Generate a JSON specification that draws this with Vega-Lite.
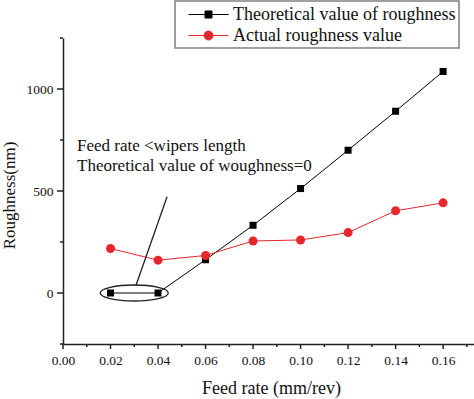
{
  "$schema": "https://vega.github.io/schema/vega-lite/v6.json",
  "width": 411,
  "height": 306,
  "autosize": "none",
  "padding": {"left": 63, "top": 38, "right": 0, "bottom": 55},
  "background": "white",
  "config": {
    "view": {"stroke": null},
    "font": "Liberation Serif",
    "axis": {
      "domainColor": "#222222",
      "domainWidth": 1.5,
      "ticks": false,
      "labelColor": "#111111",
      "labelFont": "Liberation Serif",
      "labelFontSize": 13.5,
      "titleFont": "Liberation Serif",
      "titleColor": "#111111",
      "titleFontWeight": "normal",
      "grid": false
    }
  },
  "datasets": {
    "series": [
      {"feed": 0.02, "rough": 0, "series": "Theoretical value of roughness"},
      {"feed": 0.04, "rough": 0, "series": "Theoretical value of roughness"},
      {"feed": 0.06, "rough": 163, "series": "Theoretical value of roughness"},
      {"feed": 0.08, "rough": 332, "series": "Theoretical value of roughness"},
      {"feed": 0.10, "rough": 512, "series": "Theoretical value of roughness"},
      {"feed": 0.12, "rough": 700, "series": "Theoretical value of roughness"},
      {"feed": 0.14, "rough": 891, "series": "Theoretical value of roughness"},
      {"feed": 0.16, "rough": 1086, "series": "Theoretical value of roughness"},
      {"feed": 0.02, "rough": 218, "series": "Actual roughness value"},
      {"feed": 0.04, "rough": 161, "series": "Actual roughness value"},
      {"feed": 0.06, "rough": 184, "series": "Actual roughness value"},
      {"feed": 0.08, "rough": 255, "series": "Actual roughness value"},
      {"feed": 0.10, "rough": 260, "series": "Actual roughness value"},
      {"feed": 0.12, "rough": 296, "series": "Actual roughness value"},
      {"feed": 0.14, "rough": 403, "series": "Actual roughness value"},
      {"feed": 0.16, "rough": 442, "series": "Actual roughness value"}
    ],
    "xmajor": [{"feed": 0}, {"feed": 0.02}, {"feed": 0.04}, {"feed": 0.06}, {"feed": 0.08}, {"feed": 0.1}, {"feed": 0.12}, {"feed": 0.14}, {"feed": 0.16}],
    "xminor": [{"feed": 0.01}, {"feed": 0.03}, {"feed": 0.05}, {"feed": 0.07}, {"feed": 0.09}, {"feed": 0.11}, {"feed": 0.13}, {"feed": 0.15}, {"feed": 0.17}],
    "ymajor": [{"rough": 0}, {"rough": 500}, {"rough": 1000}],
    "yminor": [{"rough": -250}, {"rough": 250}, {"rough": 750}, {"rough": 1250}],
    "ellipse": [{"feed": 0.03, "rough": 0}],
    "pointer": [{"feed": 0.0438, "rough": 472, "feed2": 0.0307, "rough2": 37}],
    "notes": [
      {"feed": 0.0059, "rough": 694, "text": "Feed rate <wipers length"},
      {"feed": 0.0059, "rough": 598, "text": "Theoretical value of woughness=0"}
    ]
  },
  "layer": [
    {
      "data": {"name": "series"},
      "mark": {"type": "line", "strokeWidth": 1},
      "encoding": {
        "x": {
          "field": "feed", "type": "quantitative",
          "scale": {"domain": [0, 0.173], "nice": false, "zero": false},
          "axis": {
            "orient": "bottom",
            "values": [0, 0.02, 0.04, 0.06, 0.08, 0.1, 0.12, 0.14, 0.16],
            "format": ".2f",
            "labelPadding": 9,
            "title": "Feed rate (mm/rev)",
            "titleFontSize": 18,
            "titleX": 208,
            "titleY": 49,
            "titleBaseline": "alphabetic",
            "titleAlign": "center",
            "labelFlush": false,
            "labelOverlap": false
          }
        },
        "y": {
          "field": "rough", "type": "quantitative",
          "scale": {"domain": [-250, 1250], "nice": false, "zero": false},
          "axis": {
            "orient": "left",
            "values": [0, 500, 1000],
            "format": "d",
            "labelPadding": 10,
            "title": "Roughness(nm)",
            "titleFontSize": 17,
            "titleX": -49,
            "titleY": 157,
            "titleAngle": -90,
            "titleBaseline": "alphabetic",
            "titleAlign": "center",
            "labelFlush": false,
            "labelOverlap": false
          }
        },
        "color": {
          "field": "series", "type": "nominal",
          "scale": {"domain": ["Theoretical value of roughness", "Actual roughness value"], "range": ["#000000", "#e8262e"]},
          "legend": {
            "title": null,
            "orient": "none",
            "legendX": 112,
            "legendY": -37,
            "padding": 3,
            "rowPadding": 1,
            "fillColor": "white",
            "strokeColor": "#808080",
            "labelFont": "Liberation Serif",
            "labelFontSize": 18,
            "labelColor": "#111111",
            "labelLimit": 400,
            "labelOffset": 34,
            "symbolSize": 400,
            "encode": {
              "legend": {"update": {"strokeWidth": {"value": 1.5}}},
              "symbols": {
                "update": {
                  "shape": {"signal": "datum.value === 'Theoretical value of roughness' ? 'M0,0H4M1.65,-0.35H2.35V0.35H1.65Z' : 'M0,0H4M1.55,0A0.45,0.45,0,1,0,2.45,0A0.45,0.45,0,1,0,1.55,0Z'"},
                  "fill": {"signal": "datum.value === 'Theoretical value of roughness' ? '#000000' : '#ee1c24'"},
                  "stroke": {"signal": "datum.value === 'Theoretical value of roughness' ? '#1a1a1a' : '#e0505a'"},
                  "strokeWidth": {"value": 1},
                  "opacity": {"value": 1}
                }
              }
            }
          }
        }
      }
    },
    {
      "data": {"name": "xmajor"},
      "mark": {"type": "tick", "orient": "vertical", "size": 5, "thickness": 1.5, "yOffset": 2.5, "color": "#222222", "opacity": 1},
      "encoding": {
        "x": {"field": "feed", "type": "quantitative"},
        "y": {"datum": -250, "type": "quantitative"}
      }
    },
    {
      "data": {"name": "xminor"},
      "mark": {"type": "tick", "orient": "vertical", "size": 3, "thickness": 1.5, "yOffset": 1.5, "color": "#222222", "opacity": 1},
      "encoding": {
        "x": {"field": "feed", "type": "quantitative"},
        "y": {"datum": -250, "type": "quantitative"}
      }
    },
    {
      "data": {"name": "ymajor"},
      "mark": {"type": "tick", "orient": "horizontal", "size": 6, "thickness": 1.5, "xOffset": -3, "color": "#222222", "opacity": 1},
      "encoding": {
        "y": {"field": "rough", "type": "quantitative"},
        "x": {"datum": 0, "type": "quantitative"}
      }
    },
    {
      "data": {"name": "yminor"},
      "mark": {"type": "tick", "orient": "horizontal", "size": 3, "thickness": 1.5, "xOffset": -1.5, "color": "#222222", "opacity": 1},
      "encoding": {
        "y": {"field": "rough", "type": "quantitative"},
        "x": {"datum": 0, "type": "quantitative"}
      }
    },
    {
      "data": {"name": "ellipse"},
      "mark": {
        "type": "point",
        "shape": "M-1,0A1,0.235,0,1,0,1,0A1,0.235,0,1,0,-1,0Z",
        "size": 4624,
        "filled": false,
        "stroke": "#222222",
        "strokeWidth": 1.3,
        "opacity": 1
      },
      "encoding": {
        "x": {"field": "feed", "type": "quantitative"},
        "y": {"field": "rough", "type": "quantitative"}
      }
    },
    {
      "data": {"name": "series"},
      "transform": [{"filter": "datum.series === 'Theoretical value of roughness'"}],
      "mark": {"type": "point", "shape": "square", "size": 49, "filled": true, "opacity": 1, "strokeWidth": 0},
      "encoding": {
        "x": {"field": "feed", "type": "quantitative"},
        "y": {"field": "rough", "type": "quantitative"},
        "color": {"field": "series", "type": "nominal"}
      }
    },
    {
      "data": {"name": "series"},
      "transform": [{"filter": "datum.series === 'Actual roughness value'"}],
      "mark": {"type": "point", "shape": "circle", "size": 81, "filled": true, "opacity": 1, "strokeWidth": 0},
      "encoding": {
        "x": {"field": "feed", "type": "quantitative"},
        "y": {"field": "rough", "type": "quantitative"},
        "color": {"field": "series", "type": "nominal"}
      }
    },
    {
      "data": {"name": "pointer"},
      "mark": {"type": "rule", "stroke": "#222222", "strokeWidth": 1.3},
      "encoding": {
        "x": {"field": "feed", "type": "quantitative"},
        "y": {"field": "rough", "type": "quantitative"},
        "x2": {"field": "feed2"},
        "y2": {"field": "rough2"}
      }
    },
    {
      "data": {"name": "notes"},
      "mark": {"type": "text", "align": "left", "baseline": "alphabetic", "font": "Liberation Serif", "fontSize": 17, "color": "#111111"},
      "encoding": {
        "x": {"field": "feed", "type": "quantitative"},
        "y": {"field": "rough", "type": "quantitative"},
        "text": {"field": "text"}
      }
    }
  ]
}
